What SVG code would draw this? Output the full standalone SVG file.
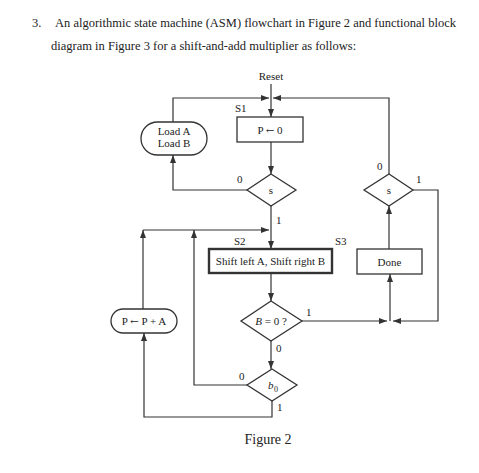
<svg xmlns="http://www.w3.org/2000/svg" width="479" height="473" viewBox="0 0 479 473">
<defs>
<marker id="ah" viewBox="0 0 8 6" refX="8" refY="3" markerWidth="8" markerHeight="6" markerUnits="userSpaceOnUse" orient="auto">
<path d="M0,0 L8,3 L0,6 Z" fill="#333"/>
</marker>
</defs>
<style>
text{font-family:"Liberation Serif","Times New Roman",serif;fill:#222}
.t{font-size:12.5px}
.l{font-size:11px}
.ar{font-family:"DejaVu Serif","DejaVu Sans",serif;font-size:10px}
.n{fill:none;stroke:#333;stroke-width:1.3}
.c path{fill:none;stroke:#333;stroke-width:1.2;marker-end:url(#ah)}
</style>
<rect width="479" height="473" fill="#fff"/>
<text class="t" x="32" y="27">3.</text>
<text class="t" x="55" y="27">An algorithmic state machine (ASM) flowchart in Figure 2 and functional block</text>
<text class="t" x="51" y="50">diagram in Figure 3 for a shift-and-add multiplier as follows:</text>

<g class="c" id="connectors">
<path d="M271,84 V117"/>
<path d="M173,122 V98 H269"/>
<path d="M389,174 V98 H273"/>
<path d="M271,142 V174"/>
<path d="M247,190 H173 V155"/>
<path d="M271,206 V249"/>
<path d="M143,309 V230"/>
<path d="M143,230 H269"/>
<path d="M247,385 H194 V230"/>
<path d="M271,273 V301"/>
<path d="M302,321 H387"/>
<path d="M413,190 H438 V321 H393"/>
<path d="M390,321 V274"/>
<path d="M389,249 V206"/>
<path d="M271,341 V369"/>
<path d="M272,401 V417 H144 V333"/>
</g>

<text class="l" x="271" y="80" text-anchor="middle">Reset</text>
<text class="l" x="235" y="112">S1</text>
<text class="l" x="234" y="245">S2</text>
<text class="l" x="335" y="245">S3</text>

<g id="n_load">
<rect class="n" x="141" y="122" width="66" height="33" rx="16.5"/>
<text class="l" x="174" y="135" text-anchor="middle">Load A</text>
<text class="l" x="174" y="147" text-anchor="middle">Load B</text>
</g>
<g id="n_p0">
<rect class="n" x="237" y="117" width="66" height="25"/>
<text class="l" x="270" y="133.5" text-anchor="middle">P <tspan class="ar">←</tspan> 0</text>
</g>
<g id="n_s1">
<path class="n" d="M271,174 L296,190 L271,206 L247,190 Z"/>
<text class="l" x="271" y="194" text-anchor="middle">s</text>
<text class="l" x="237" y="183">0</text>
<text class="l" x="276" y="224">1</text>
</g>
<g id="n_s2">
<path class="n" d="M389,174 L413,190 L389,206 L364,190 Z"/>
<text class="l" x="389" y="194" text-anchor="middle">s</text>
<text class="l" x="377" y="170">0</text>
<text class="l" x="416" y="183">1</text>
</g>
<g id="n_shift">
<rect x="209" y="249" width="123" height="24" fill="none" stroke="#333" stroke-width="2.4"/>
<text class="l" x="270.5" y="265" text-anchor="middle">Shift left A, Shift right B</text>
</g>
<g id="n_done">
<rect class="n" x="357" y="249" width="65" height="25"/>
<text class="l" x="389.5" y="265.5" text-anchor="middle">Done</text>
</g>
<g id="n_padd">
<rect class="n" x="111" y="309" width="66" height="24" rx="12"/>
<text class="l" x="144" y="325" text-anchor="middle">P <tspan class="ar">←</tspan> P + A</text>
</g>
<g id="n_b0">
<path class="n" d="M271,301 L302,321 L271,341 L241,321 Z"/>
<text class="l" x="271" y="325" text-anchor="middle"><tspan font-style="italic">B</tspan> = 0 ?</text>
<text class="l" x="306" y="316">1</text>
<text class="l" x="276" y="352">0</text>
</g>
<g id="n_bit">
<path class="n" d="M272,369 L297,385 L272,401 L247,385 Z"/>
<text class="l" x="268" y="389" font-style="italic">b</text>
<text x="274" y="392" font-size="8">0</text>
<text class="l" x="239" y="380">0</text>
<text class="l" x="277" y="411">1</text>
</g>
<text x="268" y="444" font-size="14" text-anchor="middle">Figure 2</text>
</svg>
